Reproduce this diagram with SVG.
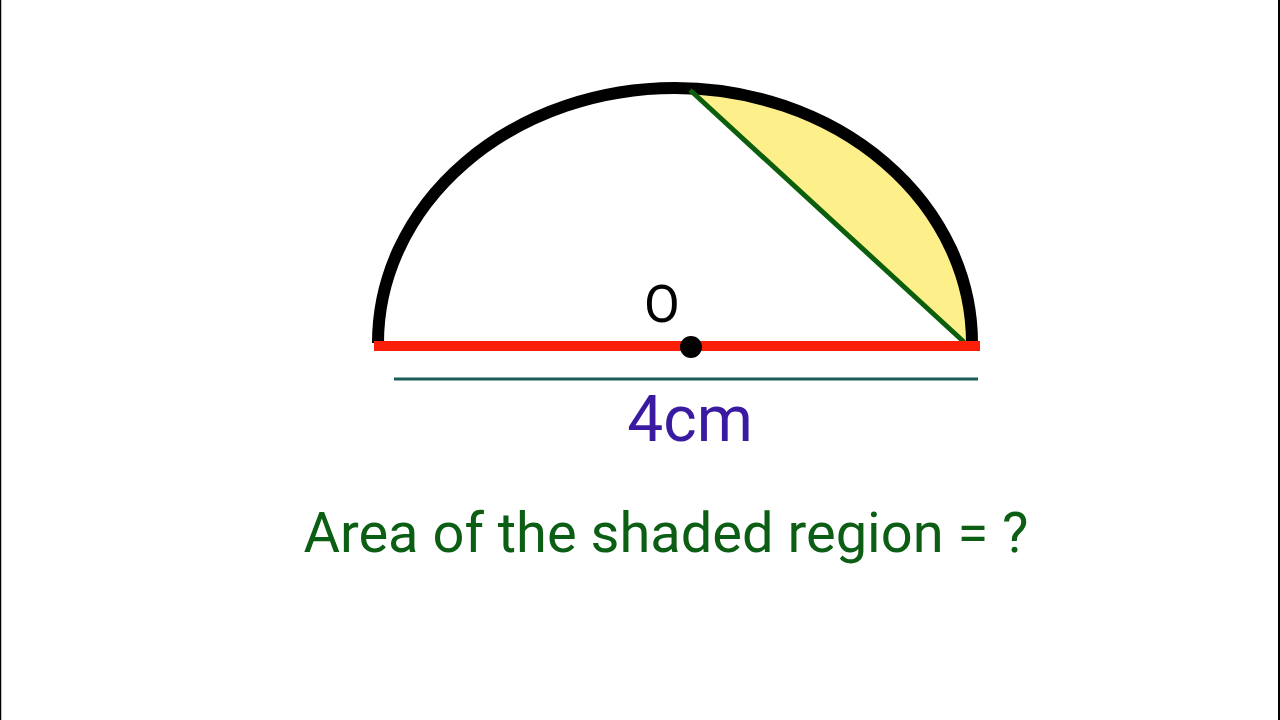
<svg xmlns="http://www.w3.org/2000/svg" width="1280" height="720" viewBox="0 0 1280 720">
<style>
.lbl{font-family:Roboto,"Liberation Sans",sans-serif}
</style>
<rect x="0" y="0" width="1280" height="720" fill="#ffffff"/>
<line x1="0.5" y1="0" x2="0.5" y2="720" stroke="#000" stroke-width="1.5"/>
<line x1="1279" y1="0" x2="1279" y2="720" stroke="#000" stroke-width="2"/>
<g id="shaded">
<path d="M 690 88.5 A 297 255 0 0 1 972 343 L 964 343 Z" fill="#fdef8a"/>
</g>
<g id="semicircle">
<path d="M 378 343 A 297 255 0 0 1 972 343" fill="none" stroke="#000" stroke-width="12"/>
</g>
<g id="connectors">
<line x1="690" y1="90" x2="964" y2="342" stroke="#0b5e0b" stroke-width="5"/>
<line x1="374" y1="346" x2="980" y2="346" stroke="#fb1e08" stroke-width="10"/>
<line x1="394" y1="379" x2="978" y2="379" stroke="#195c58" stroke-width="3"/>
</g>
<g id="center">
<circle cx="691" cy="347" r="11" fill="#000"/>
<text class="lbl" x="662" y="322" font-size="52" text-anchor="middle" fill="#000">O</text>
</g>
<g id="dimension">
<text class="lbl" x="690" y="441" font-size="64" text-anchor="middle" fill="#3a1aa0">4cm</text>
</g>
<g id="question">
<text class="lbl" x="666" y="552" font-size="56" text-anchor="middle" fill="#0b5e14">Area of the shaded region = ?</text>
</g>
</svg>
